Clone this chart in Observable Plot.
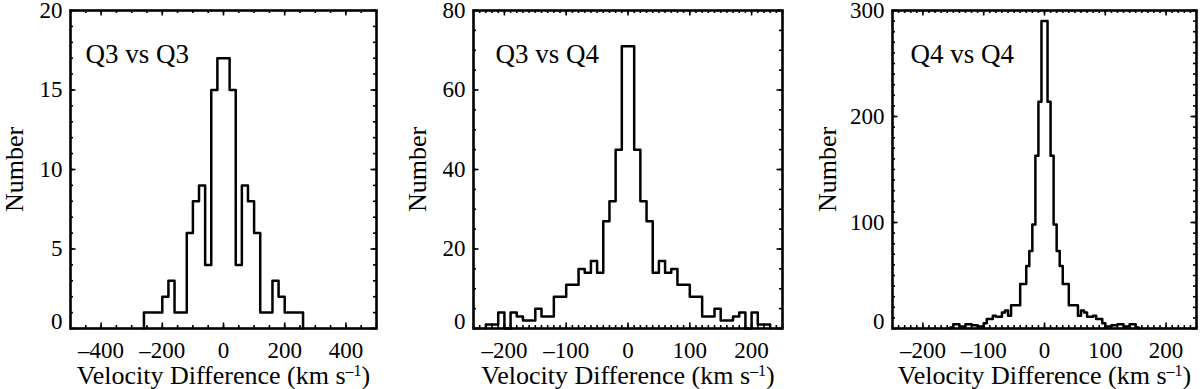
<!DOCTYPE html>
<html>
<head>
<meta charset="utf-8">
<script src="https://cdn.jsdelivr.net/npm/d3@7"></script>
<script src="https://cdn.jsdelivr.net/npm/@observablehq/plot@0.6"></script>
<style>
  html, body { margin: 0; padding: 0; background: #fff; }
  #chart { display: flex; flex-direction: row; width: 1203px; height: 389px; }
  #chart svg { display: block; font-family: "Liberation Serif", serif !important; }
  #chart svg text { font-family: "Liberation Serif", serif !important; }
</style>
</head>
<body>
<div id="chart"></div>
<script>
// ---------- data ----------
const panelTitles = ["Q3 vs Q3", "Q3 vs Q4", "Q4 vs Q4"];
const xAxisTitleMain = "Velocity Difference (km s";
const xAxisTitleSup = "\u2013" + "1";
const xAxisTitleEnd = ")";
const yAxisTitle = "Number";

// Panel 1: Q3 vs Q3, bins of 20 km/s
const q33Edges = [-260,-240,-220,-200,-180,-160,-140,-120,-100,-80,-60,-40,-20,0,20,40,60,80,100,120,140,160,180,200,220,240,260];
const q33Counts = [1,1,1,2,3,1,1,6,8,9,4,15,17,17,15,4,9,8,6,1,1,3,2,1,1,1];

// Panel 2: Q3 vs Q4, bins of 10 km/s
const q34Edges = [-230,-220,-210,-200,-190,-180,-170,-160,-150,-140,-130,-120,-110,-100,-90,-80,-70,-60,-50,-40,-30,-20,-10,0,10,20,30,40,50,60,70,80,90,100,110,120,130,140,150,160,170,180,190,200,210,220,230];
const q34Counts = [1,1,4,0,4,3,2,2,5,3,3,8,8,11,11,15,14,17,14,27,32,45,71,71,45,32,27,14,17,14,15,11,11,8,8,3,3,5,2,2,3,4,0,4,1,1];

// Panel 3: Q4 vs Q4, bins of 5 km/s
const q44Edges = [-155,-150,-145,-140,-135,-130,-125,-120,-115,-110,-105,-100,-95,-90,-85,-80,-75,-70,-65,-60,-55,-50,-45,-40,-35,-30,-25,-20,-15,-10,-5,0,5,10,15,20,25,30,35,40,45,50,55,60,65,70,75,80,85,90,95,100,105,110,115,120,125,130,135,140,145,150,155];
const q44Counts = [1,4,4,2,2,4,4,3,3,2,2,5,9,9,12,11,11,15,17,12,22,22,22,42,42,59,73,98,163,214,290,290,214,163,98,73,59,42,42,22,22,22,12,17,15,11,11,12,9,9,5,2,2,3,3,4,4,2,2,4,4,1];

// tick values
const q33XTicks = [-400,-200,0,200,400];
const q33YTicks = [0,5,10,15,20];
const q34XTicks = [-200,-100,0,100,200];
const q34YTicks = [0,20,40,60,80];
const q44XTicks = [-200,-100,0,100,200];
const q44YTicks = [0,100,200,300];

// ---------- layout / style ----------
const FONT = "Liberation Serif";
const H_TOTAL = 389, M_TOP = 10, M_BOTTOM = 61;

const panels = [
  {title: panelTitles[0], edges: q33Edges, counts: q33Counts, xDomain: [-500,500], yDomain: [0,20],
   xTicks: q33XTicks, yTicks: q33YTicks, xMinorStep: 50, yMinorStep: 1,
   width: 401, marginLeft: 70, marginRight: 25, titleDx: 15, yTitleDx: -56},
  {title: panelTitles[1], edges: q34Edges, counts: q34Counts, xDomain: [-250,250], yDomain: [0,80],
   xTicks: q34XTicks, yTicks: q34YTicks, xMinorStep: 10, yMinorStep: 5,
   width: 401, marginLeft: 72, marginRight: 20, titleDx: 22, yTitleDx: -56},
  {title: panelTitles[2], edges: q44Edges, counts: q44Counts, xDomain: [-250,250], yDomain: [0,300],
   xTicks: q44XTicks, yTicks: q44YTicks, xMinorStep: 10, yMinorStep: 10,
   width: 401, marginLeft: 90, marginRight: 7, titleDx: 18, yTitleDx: -65}
];

const fmt = d => d < 0 ? "\u2013" + Math.abs(d) : String(d);

function stepPoints(edges, counts) {
  const pts = [{x: edges[0], y: 0}];
  counts.forEach((c, i) => pts.push({x: edges[i], y: c}));
  pts.push({x: edges[edges.length - 1], y: 0});
  return pts;
}

function makePanel(p) {
  const H = H_TOTAL - M_TOP - M_BOTTOM;
  const W = p.width - p.marginLeft - p.marginRight;
  const xMinor = d3.range(p.xDomain[0], p.xDomain[1] + 1e-9, p.xMinorStep);
  const yMinor = d3.range(p.yDomain[0], p.yDomain[1] + 1e-9, p.yMinorStep);
  const majLen = 5.5, minLen = 3, tw = 1.6;
  const yZero = p.yTicks.filter(d => d === p.yDomain[0]);
  const yRest = p.yTicks.filter(d => d !== p.yDomain[0]);
  const svg = Plot.plot({
    width: p.width, height: H_TOTAL,
    marginLeft: p.marginLeft, marginRight: p.marginRight, marginTop: M_TOP, marginBottom: M_BOTTOM,
    style: {fontFamily: FONT, color: "#000", background: "#fff", overflow: "visible"},
    x: {domain: p.xDomain, label: null, axis: null},
    y: {domain: p.yDomain, label: null, axis: null},
    marks: [
      // minor ticks (all four sides, inward)
      Plot.tickX(xMinor, {x: d => d, insetTop: H - minLen, strokeWidth: tw}),
      Plot.tickX(xMinor, {x: d => d, insetBottom: H - minLen, strokeWidth: tw}),
      Plot.tickY(yMinor, {y: d => d, insetRight: W - minLen, strokeWidth: tw}),
      Plot.tickY(yMinor, {y: d => d, insetLeft: W - minLen, strokeWidth: tw}),
      // major ticks
      Plot.tickX(p.xTicks, {x: d => d, insetTop: H - majLen, strokeWidth: tw}),
      Plot.tickX(p.xTicks, {x: d => d, insetBottom: H - majLen, strokeWidth: tw}),
      Plot.tickY(p.yTicks, {y: d => d, insetRight: W - majLen, strokeWidth: tw}),
      Plot.tickY(p.yTicks, {y: d => d, insetLeft: W - majLen, strokeWidth: tw}),
      // histogram outline
      Plot.line(stepPoints(p.edges, p.counts), {x: "x", y: "y", curve: "step-after", stroke: "#000", strokeWidth: 2.5}),
      Plot.frame({stroke: "#000", strokeWidth: 2.6}),
      // x tick labels
      Plot.text(p.xTicks, {x: d => d, frameAnchor: "bottom", dy: 13, lineAnchor: "top", textAnchor: "middle",
        text: fmt, fontSize: 23, fontFamily: FONT}),
      // y tick labels (the zero label sits on its tick, as in the reference)
      Plot.text(yRest, {y: d => d, frameAnchor: "left", dx: -8, lineAnchor: "middle", textAnchor: "end",
        text: fmt, fontSize: 23, fontFamily: FONT}),
      Plot.text(yZero, {y: d => d, frameAnchor: "left", dx: -8, lineAnchor: "bottom", textAnchor: "end",
        text: fmt, fontSize: 23, fontFamily: FONT}),
      // panel title
      Plot.text([p.title], {frameAnchor: "top-left", dx: p.titleDx, dy: 52, lineAnchor: "bottom", textAnchor: "start",
        fontSize: 27, fontFamily: FONT}),
      // axis titles
      Plot.text([xAxisTitleMain], {frameAnchor: "bottom", dy: 55, lineAnchor: "bottom", textAnchor: "middle",
        fontSize: 26, fontFamily: FONT, className: "xtitle"}),
      Plot.text([yAxisTitle], {frameAnchor: "left", dx: p.yTitleDx, rotate: -90, lineAnchor: "middle", textAnchor: "middle",
        fontSize: 26, fontFamily: FONT})
    ]
  });
  // add the superscript "-1" and closing parenthesis as tspans of the x-axis title
  svg.querySelectorAll("g.xtitle text").forEach(t => {
    const ns = "http://www.w3.org/2000/svg";
    const sup = document.createElementNS(ns, "tspan");
    sup.setAttribute("dy", "-0.45em");
    sup.setAttribute("font-size", "16");
    sup.textContent = xAxisTitleSup;
    const end = document.createElementNS(ns, "tspan");
    end.setAttribute("dy", "0.45em");
    end.setAttribute("font-size", "26");
    end.textContent = xAxisTitleEnd;
    // keep the vertical position: dy is relative, so the restore uses the sup's font size
    end.setAttribute("dy", (16 * 0.45) + "px");
    sup.setAttribute("dy", (-16 * 0.45) + "px");
    t.appendChild(sup);
    t.appendChild(end);
  });
  return svg;
}

const host = document.getElementById("chart");
panels.forEach(p => host.appendChild(makePanel(p)));
</script>
</body>
</html>
